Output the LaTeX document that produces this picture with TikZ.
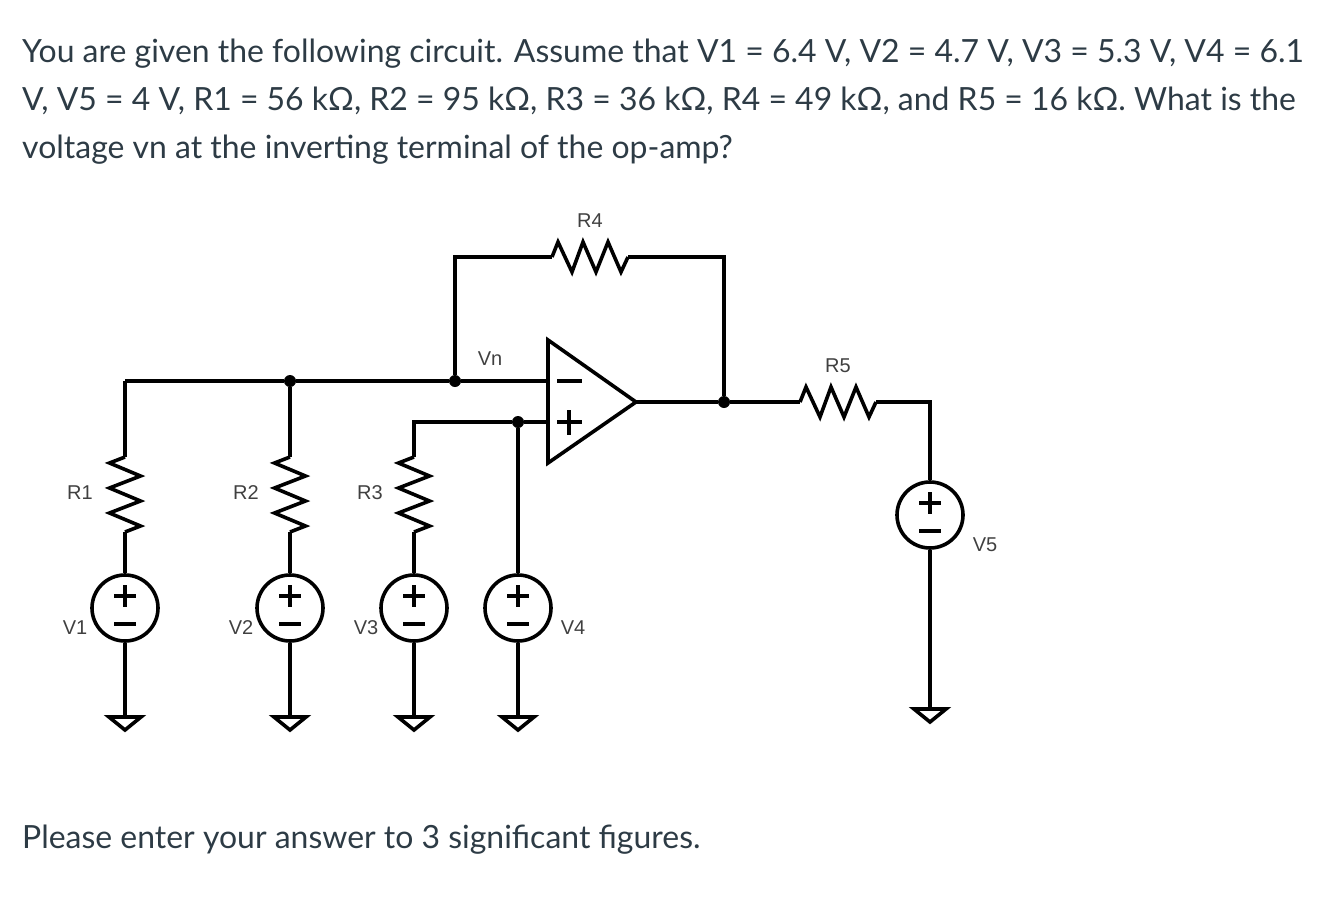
\documentclass[tikz,border=0pt]{standalone}
\usepackage{fontspec}
\setmainfont{Lato}
\newfontfamily\labelfont{Liberation Sans}
\definecolor{textgray}{HTML}{2D3B45}
\definecolor{labelgray}{HTML}{404040}
\tikzset{
  wire/.style={line width=3.6pt,line join=miter,black},
  busline/.style={line width=4.4pt,line join=miter,black},
  textline/.style={anchor=base west,inner sep=0pt,text=textgray,font=\fontsize{31.95}{36}\selectfont},
  partlabel/.style={inner sep=0pt,text=labelgray,font=\labelfont\fontsize{20}{22}\selectfont},
  srcnode/.style={circle,draw,line width=3.6pt,minimum size=66pt,inner sep=0pt},
  dotnode/.style={circle,fill,inner sep=0pt,minimum size=12pt},
  vres/.pic={
    \coordinate (-a) at (0,0);
    \coordinate (-b) at (0,75);
    \draw[wire] (-a) -- (-15.5,6) -- (15.5,19) -- (-15.5,31) -- (15.5,44) -- (-15.5,56) -- (15.5,69) -- (-b);
  },
  hres/.pic={
    \coordinate (-a) at (0,0);
    \coordinate (-b) at (76,0);
    \draw[wire] (-a) -- (6,-15) -- (20,15) -- (31,-15) -- (44,15) -- (56,-15) -- (69,15) -- (-b);
  },
  srcsigns/.pic={
    \draw[wire] (-11,-12) -- (11,-12) (0,-23) -- (0,-1) (-11,16) -- (11,16);
  },
  gnd/.pic={
    \coordinate (-top) at (0,0);
    \draw[wire] (-16,2) -- (16,2) -- (0,15) -- cycle;
  },
}
\begin{document}
\begin{tikzpicture}[x=1pt,y=-1pt]
  \useasboundingbox (0,0) rectangle (1330,908);
  % Text
  \node[textline] (line1) at (22,62) {You are given the following circuit. Assume that V1 = 6.4 V, V2 = 4.7 V, V3 = 5.3 V, V4 = 6.1};
  \node[textline] (line2) at (22,110) {V, V5 = 4 V, R1 = 56 kΩ, R2 = 95 kΩ, R3 = 36 kΩ, R4 = 49 kΩ, and R5 = 16 kΩ. What is the};
  \node[textline] (line3) at (22,158) {voltage vn at the inverting terminal of the op-amp?};
  \node[textline] (line4) at (22,848) {Please enter your answer to 3 significant figures.};
  % Points
  \coordinate (opin) at (548,340);
  \coordinate (opib) at (548,463);
  \coordinate (optip) at (636,402);
  \coordinate (minus) at (548,381);
  \coordinate (plus) at (548,422);
  \coordinate (fbl) at (455,257);
  \coordinate (fbr) at (724,257);
  \coordinate (r5c) at (930,402);
  \coordinate (top1) at (125,381);
  \coordinate (top3) at (414,422);
  \node[dotnode] (d2) at (290,381) {};
  \node[dotnode] (dn) at (455,381) {};
  \node[dotnode] (dp) at (518,422) {};
  \node[dotnode] (dout) at (724,402) {};
  % Resistors
  \pic (r1) at (125,457) {vres};
  \pic (r2) at (290,457) {vres};
  \pic (r3) at (414,457) {vres};
  \pic (r4) at (552,257) {hres};
  \pic (r5) at (800,402) {hres};
  % Sources
  \foreach \n/\x/\y in {1/125/608,2/290/608,3/414/608,4/518/608,5/930/515} {
    \node[srcnode] (s\n) at (\x,\y) {};
    \pic at (\x,\y) {srcsigns};
  }
  % Grounds
  \pic (g1) at (125,715) {gnd};
  \pic (g2) at (290,715) {gnd};
  \pic (g3) at (414,715) {gnd};
  \pic (g4) at (518,715) {gnd};
  \pic (g5) at (930,707) {gnd};
  % Segments
  \draw[wire] (r1-b) -- (s1);
  \draw[wire] (r2-b) -- (s2);
  \draw[wire] (r3-b) -- (s3);
  \foreach \n in {1,...,5} \draw[wire] (s\n) -- (g\n-top);
  \draw[wire] (r1-a) -- (top1);
  \draw[busline] (top1) -- (d2) -- (dn);
  \draw[wire] (dn) -- (minus);
  \draw[wire] (d2) -- (r2-a);
  \draw[wire] (r3-a) -- (top3) -- (dp) -- (plus);
  \draw[wire] (dp) -- (s4);
  \draw[wire] (dn) -- (fbl) -- (r4-a);
  \draw[wire] (r4-b) -- (fbr) -- (dout);
  \draw[wire] (optip) -- (dout) -- (r5-a);
  \draw[wire] (r5-b) -- (r5c) -- (s5);
  % Op-amp
  \draw[wire] (opin) -- (optip) -- (opib) -- cycle;
  \draw[wire] (557,381) -- (582,381) (557,422) -- (582,422) (569,410) -- (569,435);
  % Labels
  \node[partlabel] (lr1) at (80,493) {R1};
  \node[partlabel] (lr2) at (246,493) {R2};
  \node[partlabel] (lr3) at (370,493) {R3};
  \node[partlabel] (lr4) at (590,221) {R4};
  \node[partlabel] (lr5) at (838,366) {R5};
  \node[partlabel] (lv1) at (75,628) {V1};
  \node[partlabel] (lv2) at (241,628) {V2};
  \node[partlabel] (lv3) at (366,628) {V3};
  \node[partlabel] (lv4) at (573,628) {V4};
  \node[partlabel] (lv5) at (985,545) {V5};
  \node[partlabel] (lvn) at (490,359) {Vn};
\end{tikzpicture}
\end{document}
